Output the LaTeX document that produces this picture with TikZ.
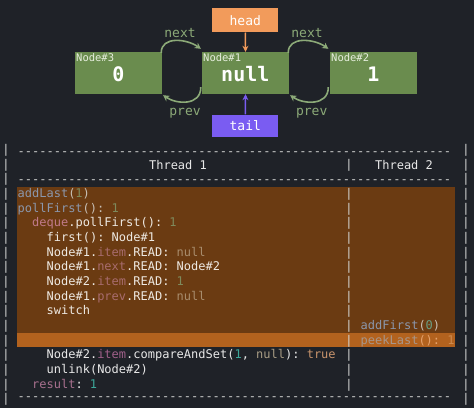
\documentclass[tikz,border=0pt]{standalone}
\usepackage{fontspec}
\setmonofont{DejaVu Sans Mono}
\usetikzlibrary{arrows.meta}
\definecolor{bgc}{HTML}{1F2228}
\definecolor{gboxc}{HTML}{6A8C4E}
\definecolor{headc}{HTML}{F29B5B}
\definecolor{tailc}{HTML}{7A5CF2}
\definecolor{linkc}{HTML}{8CAA78}
\definecolor{hl}{HTML}{6B3B12}
\definecolor{hlb}{HTML}{B2621E}
\definecolor{plain}{HTML}{EEE9E2}
\definecolor{meth}{HTML}{8B97AC}
\definecolor{paren}{HTML}{C8C0B6}
\definecolor{numo}{HTML}{7E8A5C}
\definecolor{fldo}{HTML}{A86C6E}
\definecolor{dequec}{HTML}{C07A8A}
\definecolor{nullo}{HTML}{A88C6C}
\definecolor{fldd}{HTML}{A0608A}
\definecolor{numd}{HTML}{3CA79A}
\definecolor{nulld}{HTML}{A89C84}
\definecolor{truec}{HTML}{C8946C}
\definecolor{resc}{HTML}{A8708E}
\definecolor{ptxt}{HTML}{E8E8E8}
\definecolor{pkm}{HTML}{A8968A}
\definecolor{pkp}{HTML}{E4A26C}
\definecolor{pkn}{HTML}{CC8A4E}
\definecolor{addn}{HTML}{6A9E82}
\definecolor{nodetxt}{HTML}{E6EEDD}
\definecolor{barc}{HTML}{D4D6D4}
\newcommand\tc[2]{\textcolor{#1}{#2}}
\begin{document}
\begin{tikzpicture}[x=1pt,y=-1pt,
  gbox/.style={fill=gboxc, draw=none, inner sep=0pt, minimum width=87pt, minimum height=42pt},
  nlabel/.style={font=\ttfamily\fontsize{10.5}{12}\selectfont, text=nodetxt, inner sep=0pt, anchor=west},
  val/.style={font=\ttfamily\bfseries\fontsize{20}{22}\selectfont, text=white, inner sep=0pt},
  ptr/.style={inner sep=0pt, minimum width=66pt, font=\ttfamily\fontsize{13}{15}\selectfont, text=white},
  lnk/.style={font=\ttfamily\fontsize{13}{15}\selectfont, text=linkc, inner sep=0pt},
  arc/.style={draw=linkc, line width=1.6pt, -{Stealth[length=6pt,width=6.5pt]}},
  code/.style={font=\ttfamily\fontsize{12}{14}\selectfont, text=plain, inner sep=0pt, anchor=base west},
  bar/.style={font=\ttfamily\fontsize{12}{14}\selectfont, text=barc, inner sep=0pt, anchor=base}
]
\fill[bgc] (0,0) rectangle (474,408);
\useasboundingbox (0,0) rectangle (474,408);

% list nodes
\node[gbox] (n3) at (118.5,73) {};
\node[gbox] (n1) at (245.5,73) {};
\node[gbox] (n2) at (373,73) {};
\node[nlabel] (l3) at (76,58) {Node\#3};
\node[nlabel] (l1) at (203,58) {Node\#1};
\node[nlabel] (l2) at (331,58) {Node\#2};
\node[val] (v3) at (118.3,74.5) {0};
\node[val] (v1) at (245.3,74.5) {null};
\node[val] (v2) at (373.3,74.5) {1};

\node[ptr, fill=headc, minimum height=24pt] (head) at (245.3,20.3) {head};
\node[ptr, fill=tailc, minimum height=22pt] (tail) at (245.3,125.5) {tail};
\draw[draw=headc, line width=1.4pt, -{Stealth[length=6pt,width=6pt]}] (head.south) -- (n1.north);
\draw[draw=tailc, line width=1.4pt, -{Stealth[length=6pt,width=6pt]}] (tail.north) -- (n1.south);

\node[lnk] (nx1) at (180,33.5) {next};
\node[lnk] (nx2) at (307,33.5) {next};
\node[lnk] (pv1) at (185,113) {prev};
\node[lnk] (pv2) at (311.7,113) {prev};

\draw[arc] ([shift={(-1,1)}]n3.north east) .. controls +(0,-17) and +(-14,-10) .. ([shift={(-1,-3)}]n1.north west);
\draw[arc] ([shift={(-1,1)}]n1.north east) .. controls +(0,-17) and +(-14,-10) .. ([shift={(-1,-3)}]n2.north west);
\draw[arc] ([shift={(-1,-7)}]n1.south west) .. controls +(0,19) and +(13,9) .. ([shift={(1,1)}]n3.south east);
\draw[arc] ([shift={(-1,-7)}]n2.south west) .. controls +(0,19) and +(13,9) .. ([shift={(1,1)}]n1.south east);

% highlight areas
\fill[hl] (16.7,186.7) rectangle (455,332.7);
\fill[hlb] (16.7,332.7) rectangle (455,346.5);

% table frame
\foreach \k in {0,...,17} {
  \node[bar] (bl\k) at (6,153.6+14.65*\k) {|};
  \node[bar] (br\k) at (466,153.6+14.65*\k) {|};
}
\foreach \k in {1,3,4,...,16} {
  \node[bar] (bm\k) at (349,153.6+14.65*\k) {|};
}
\node[code, text=barc] (d0) at (17.5,155) {------------------------------------------------------------};
\node[code, text=barc] (d2) at (17.5,183.3) {------------------------------------------------------------};
\node[code, text=barc] (d17) at (17.5,400) {------------------------------------------------------------};
\node[code, text=ptxt, anchor=base] (t1) at (178,169.3) {Thread 1};
\node[code, text=ptxt, anchor=base] (t2) at (404,169.3) {Thread 2};

% code lines
\node[code] (c3) at (17.5,197.6) {\tc{meth}{addLast}\tc{paren}{(}\tc{numo}{1}\tc{paren}{)}};
\node[code] (c4) at (17.5,212.25) {\tc{meth}{pollFirst}\tc{paren}{():} \tc{numo}{1}};
\node[code] (c5) at (32,226.9) {\tc{dequec}{deque}.pollFirst(): \tc{numo}{1}};
\node[code] (c6) at (46.5,241.55) {first(): Node\#1};
\node[code] (c7) at (46.5,256.2) {Node\#1.\tc{fldo}{item}.READ: \tc{nullo}{null}};
\node[code] (c8) at (46.5,270.85) {Node\#1.\tc{fldo}{next}.READ: Node\#2};
\node[code] (c9) at (46.5,285.5) {Node\#2.\tc{fldo}{item}.READ: \tc{numo}{1}};
\node[code] (c10) at (46.5,300.15) {Node\#1.\tc{fldo}{prev}.READ: \tc{nullo}{null}};
\node[code] (c11) at (46.5,314.8) {switch};
\node[code] (c12) at (360.5,329.45) {\tc{meth}{addFirst}\tc{paren}{(}\tc{addn}{0}\tc{paren}{)}};
\node[code] (c13) at (360.5,344.1) {\tc{pkm}{peekLast}\tc{pkp}{():} \tc{pkn}{1}};
\node[code, text=ptxt] (c14) at (46.5,358.75) {Node\#2.\tc{fldd}{item}.compareAndSet(\tc{numd}{1}, \tc{nulld}{null}): \tc{truec}{true}};
\node[code, text=ptxt] (c15) at (46.5,373.4) {unlink(Node\#2)};
\node[code, text=ptxt] (c16) at (32,388.05) {\tc{resc}{result}: \tc{numd}{1}};
\end{tikzpicture}
\end{document}
